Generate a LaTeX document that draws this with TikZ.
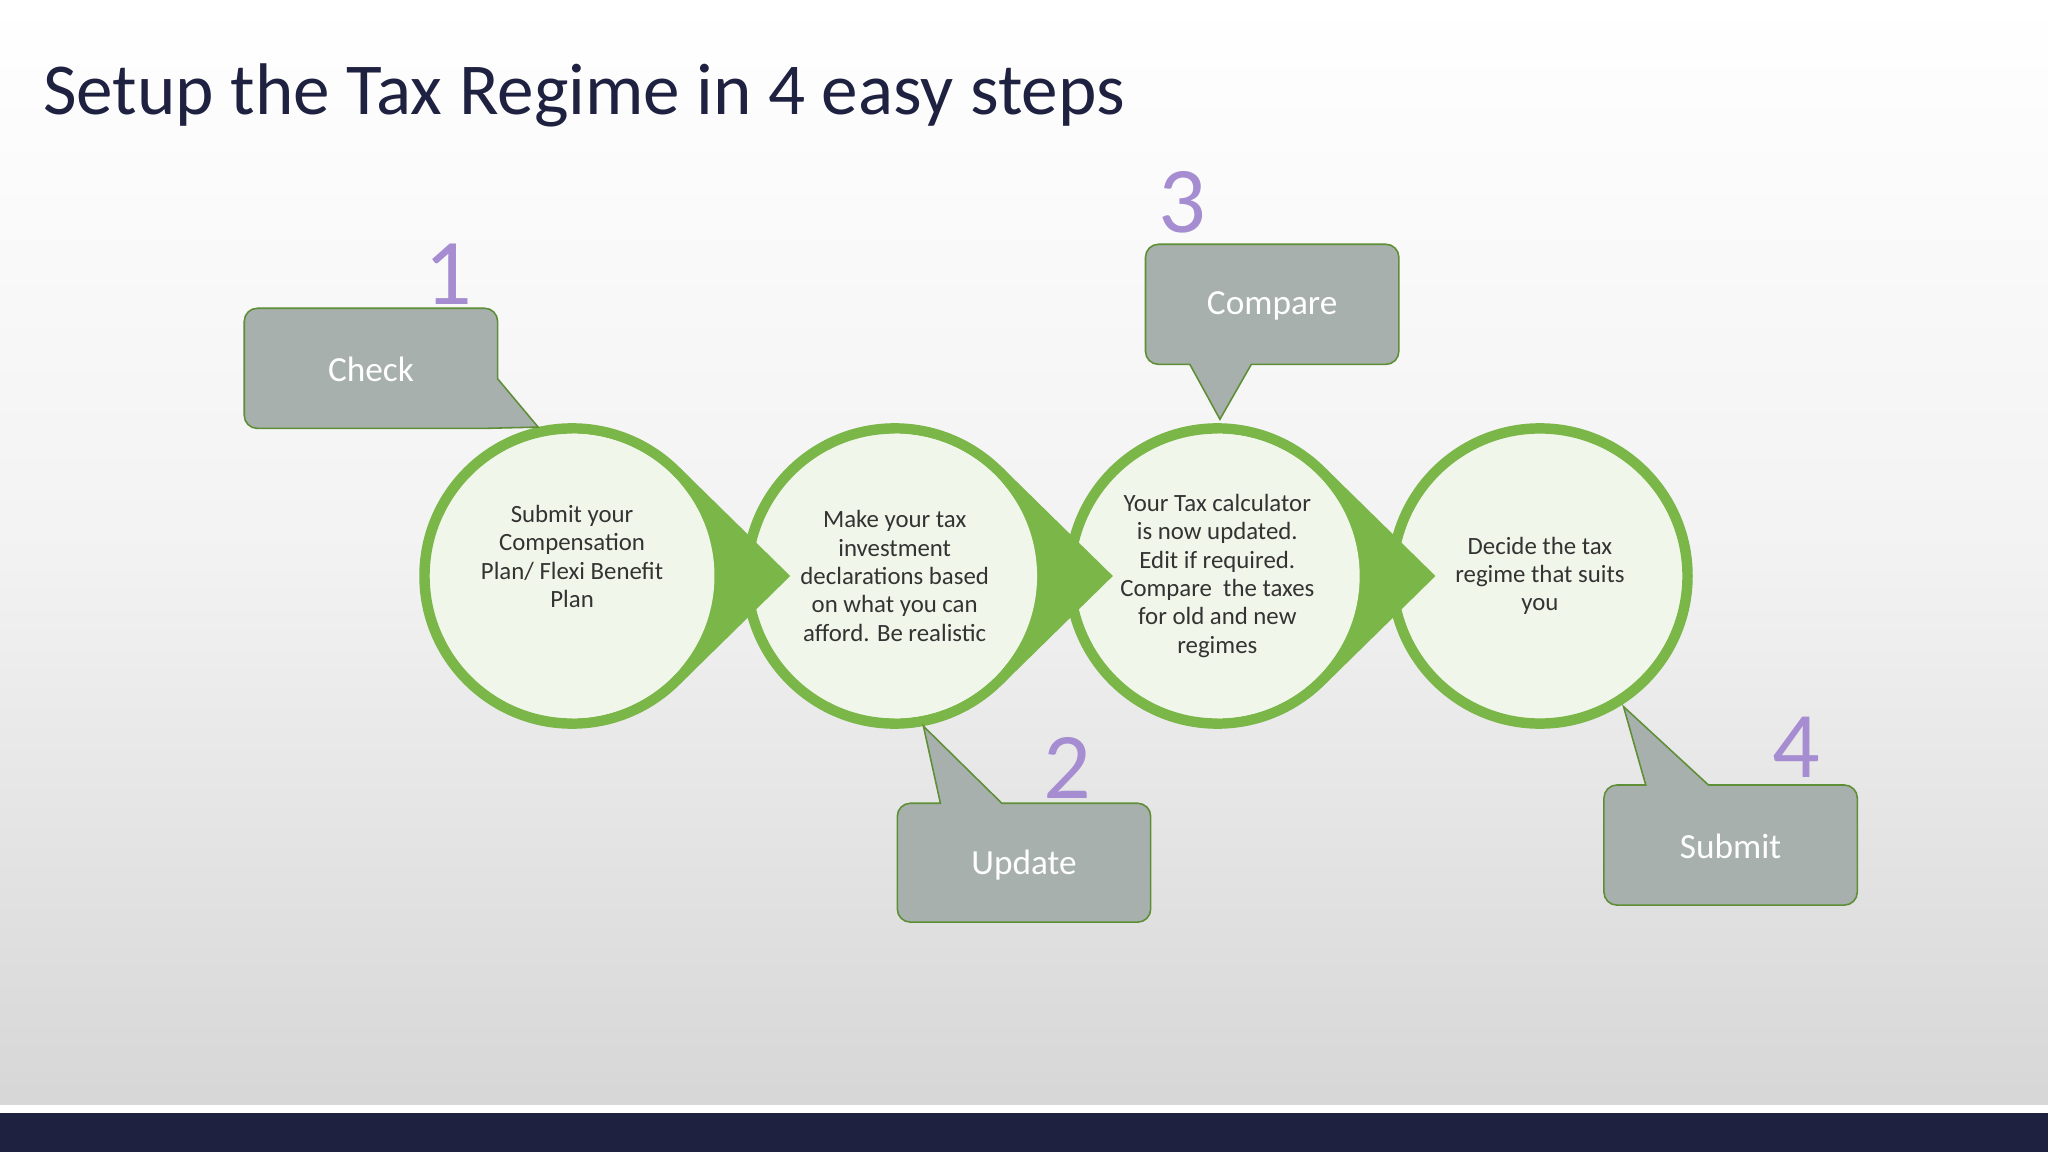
\documentclass[tikz,border=0pt]{standalone}
\usepackage{fontspec}
\setmainfont{Carlito}
\definecolor{ring}{HTML}{7AB648}
\definecolor{inner}{HTML}{F1F6EA}
\definecolor{callg}{HTML}{A7B0AD}
\definecolor{callb}{HTML}{5E8E36}
\definecolor{navy}{HTML}{1E2140}
\definecolor{numc}{HTML}{A68CD0}
\definecolor{txt}{HTML}{333333}
\begin{document}
\begin{tikzpicture}[x=1pt,y=-1pt,
  callout/.style={fill=callg,draw=callb,line width=1.2pt,rounded corners=10pt},
  ctext/.style={text=white,font=\fontsize{27}{30}\selectfont},
  btext/.style={text=txt,align=center,font=\fontsize{19}{21.7}\selectfont},
  numtext/.style={text=numc,font=\fontsize{72}{74}\selectfont}]
\useasboundingbox (0,0) rectangle (1568,882);
\shade[top color=white,bottom color=black!16,middle color=black!5] (0,0) rectangle (1568,850);
\fill[white] (0,846) rectangle (1568,852);
\fill[navy] (0,852) rectangle (1568,882);
\node[anchor=base west,text=navy,font=\fontsize{56}{60}\selectfont,inner sep=0] (title) at (33,88) {Setup the Tax Regime in 4 easy steps};
% circles
\foreach \i/\cx in {1/438,2/685,3/932,4/1179}{
  \draw[fill=inner,draw=ring,line width=8pt] (\cx,441) circle (113);
}
\foreach \cx in {438,685,932}{
  \fill[ring] (\cx+82.7,358.3) -- (\cx+167,441) -- (\cx+82.7,523.7) -- cycle;
  \begin{scope}
    \clip (\cx,300) rectangle (\cx+120,580);
    \fill[inner] (\cx,441) circle (109);
  \end{scope}
}
\node[btext] (c1) at (438,426) {Submit your\\Compensation\\Plan/ Flexi Benefit\\Plan};
\node[btext] (c2) at (685,441) {Make your tax\\investment\\declarations based\\on what you can\\afford. Be realistic};
\node[btext] (c3) at (932,441) {Your Tax calculator\\is now updated.\\Edit if required.\\Compare\ \ the taxes\\for old and new\\regimes};
\node[btext] (c4) at (1179,441) {Decide the tax\\regime that suits\\you};
% callouts
\coordinate (p1) at (412,327);
\draw[callout] (187,236) -- (381,236) [sharp corners] -- (381,290) -- (p1) -- (370,328) [rounded corners=10pt] -- (187,328) -- cycle;
\node[ctext] (check) at (284,283) {Check};
\coordinate (p2) at (707,556);
\draw[callout] (687,615) [sharp corners] -- (720,615) -- (p2) -- (767,615) [rounded corners=10pt] -- (881,615) -- (881,706) -- (687,706) -- cycle;
\node[ctext] (update) at (784,662) {Update};
\coordinate (p3) at (934,321);
\draw[callout] (877,187) -- (1071,187) -- (1071,279) [sharp corners] -- (958,279) -- (p3) -- (911,279) [rounded corners=10pt] -- (877,279) -- cycle;
\node[ctext] (compare) at (974,234) {Compare};
\coordinate (p4) at (1243,541);
\draw[callout] (1228,601) [sharp corners] -- (1260,601) -- (p4) -- (1308,601) [rounded corners=10pt] -- (1422,601) -- (1422,693) -- (1228,693) -- cycle;
\node[ctext] (submit) at (1325,648) {Submit};
% numbers
\node[numtext] (n1) at (343,210) {1};
\node[numtext] (n2) at (817,588) {2};
\node[numtext] (n3) at (905,155) {3};
\node[numtext] (n4) at (1375,572) {4};
\end{tikzpicture}
\end{document}
